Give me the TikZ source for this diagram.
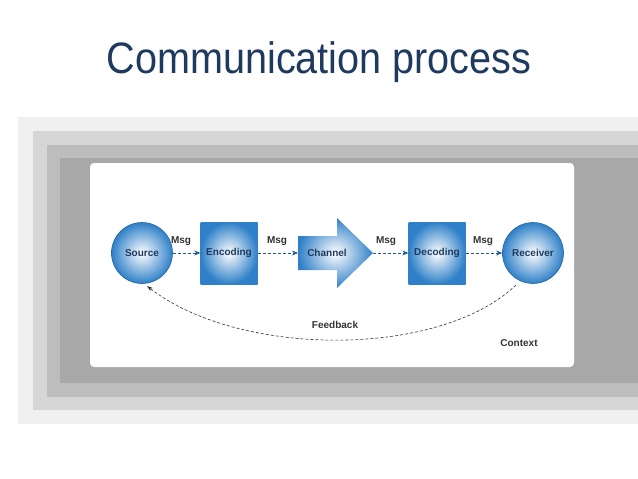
\documentclass[tikz,border=0pt]{standalone}
\usepackage{fontspec}
\setmainfont{Liberation Sans}
\usetikzlibrary{arrows.meta}
\definecolor{navy}{HTML}{1F3A5F}
\definecolor{bl}{HTML}{2F80C8}
\begin{document}
\begin{tikzpicture}[x=1pt,y=-1pt,
 ball/.style={circle,minimum size=61pt,inner sep=0pt,draw=bl!80!black,line width=0.6pt,inner color=white,outer color=bl,font=\fontsize{10}{11}\selectfont\bfseries,text=navy},
 box/.style={rectangle,minimum width=57pt,minimum height=62pt,inner sep=0pt,inner color=white,outer color=bl,font=\fontsize{10}{11}\selectfont\bfseries,text=navy},
 msg/.style={font=\fontsize{10}{11}\selectfont\bfseries,text=black!80},
 flow/.style={densely dashed,draw=bl!70!black,line width=0.6pt,-{Stealth[length=6pt,width=5pt]}},
]
\useasboundingbox (0,0) rectangle (638,479);
\fill[white] (0,0) rectangle (638,479);
\fill[black!6] (18,117) rectangle (638,424);
\fill[black!16] (33,131) rectangle (638,410);
\fill[black!26] (47,145) rectangle (638,397);
\fill[black!34] (60,158) rectangle (638,383);
\fill[white,rounded corners=4pt] (90,163) rectangle (574,367);
\node[font=\fontsize{44}{48}\selectfont,text=navy,xscale=0.9] (title) at (319,62) {Communication process};
\node[ball] (src) at (142,253) {Source};
\node[box] (enc) at (229,253) {Encoding};
\path[inner color=white,outer color=bl] (298,236) -- (337,236) -- (337,218) -- (373,253) -- (337,288) -- (337,270) -- (298,270) -- cycle;
\node[font=\fontsize{10}{11}\selectfont\bfseries,text=navy,inner sep=1pt] (ch) at (327,253) {Channel};
\coordinate (chin) at (298,253);
\coordinate (chout) at (373,253);
\node[box] (dec) at (437,253) {Decoding};
\node[ball] (rcv) at (533,253) {Receiver};
\draw[flow] (src) -- (enc);
\draw[flow] (enc) -- (chin);
\draw[flow] (chout) -- (dec);
\draw[flow] (dec) -- (rcv);
\node[msg] (m1) at (181,241) {Msg};
\node[msg] (m2) at (277,241) {Msg};
\node[msg] (m3) at (386,241) {Msg};
\node[msg] (m4) at (483,241) {Msg};
\coordinate (fbs) at (516,285);
\coordinate (fbe) at (147,286);
\draw[densely dashed,line width=0.6pt,black!80,-{Stealth[length=6pt,width=4pt]}] (fbs) .. controls (440,358) and (240,358) .. (fbe);
\node[msg] (fb) at (335,325) {Feedback};
\node[msg] (ctx) at (519,343) {Context};
\end{tikzpicture}
\end{document}
